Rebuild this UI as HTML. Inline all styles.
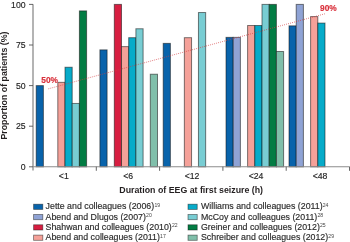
<!DOCTYPE html><html><head><meta charset="utf-8"><style>html,body{margin:0;padding:0;background:#fff;}svg{display:block}text{font-family:"Liberation Sans",Arial,sans-serif}text.r{stroke:#2a2a2a;stroke-width:0.15}text.r tspan{stroke:none}</style></head><body>
<svg width="350" height="242" viewBox="0 0 350 242">
<rect x="36.20" y="85.60" width="7.20" height="81.20" fill="#0863ab" stroke="#141414" stroke-opacity="0.55" stroke-width="1.0"/>
<rect x="57.80" y="82.35" width="7.20" height="84.45" fill="#f5a199" stroke="#141414" stroke-opacity="0.55" stroke-width="1.0"/>
<rect x="65.00" y="67.25" width="7.20" height="99.55" fill="#07abc9" stroke="#141414" stroke-opacity="0.55" stroke-width="1.0"/>
<rect x="72.20" y="103.46" width="7.20" height="63.34" fill="#78cdd3" stroke="#141414" stroke-opacity="0.55" stroke-width="1.0"/>
<rect x="79.40" y="10.90" width="7.20" height="155.90" fill="#027c43" stroke="#141414" stroke-opacity="0.55" stroke-width="1.0"/>
<rect x="99.90" y="49.87" width="7.20" height="116.93" fill="#0863ab" stroke="#141414" stroke-opacity="0.55" stroke-width="1.0"/>
<rect x="114.30" y="4.40" width="7.20" height="162.40" fill="#d71e41" stroke="#141414" stroke-opacity="0.55" stroke-width="1.0"/>
<rect x="121.50" y="46.62" width="7.20" height="120.18" fill="#f5a199" stroke="#141414" stroke-opacity="0.55" stroke-width="1.0"/>
<rect x="128.70" y="37.69" width="7.20" height="129.11" fill="#07abc9" stroke="#141414" stroke-opacity="0.55" stroke-width="1.0"/>
<rect x="135.90" y="28.76" width="7.20" height="138.04" fill="#78cdd3" stroke="#141414" stroke-opacity="0.55" stroke-width="1.0"/>
<rect x="150.30" y="74.23" width="7.20" height="92.57" fill="#80bfaa" stroke="#141414" stroke-opacity="0.55" stroke-width="1.0"/>
<rect x="163.20" y="43.38" width="7.20" height="123.42" fill="#0863ab" stroke="#141414" stroke-opacity="0.55" stroke-width="1.0"/>
<rect x="184.35" y="37.69" width="7.20" height="129.11" fill="#f5a199" stroke="#141414" stroke-opacity="0.55" stroke-width="1.0"/>
<rect x="198.45" y="12.52" width="7.20" height="154.28" fill="#78cdd3" stroke="#141414" stroke-opacity="0.55" stroke-width="1.0"/>
<rect x="226.00" y="37.37" width="7.20" height="129.43" fill="#0863ab" stroke="#141414" stroke-opacity="0.55" stroke-width="1.0"/>
<rect x="233.20" y="37.37" width="7.20" height="129.43" fill="#8fa3d5" stroke="#141414" stroke-opacity="0.55" stroke-width="1.0"/>
<rect x="247.60" y="25.51" width="7.20" height="141.29" fill="#f5a199" stroke="#141414" stroke-opacity="0.55" stroke-width="1.0"/>
<rect x="254.80" y="25.51" width="7.20" height="141.29" fill="#07abc9" stroke="#141414" stroke-opacity="0.55" stroke-width="1.0"/>
<rect x="262.00" y="4.40" width="7.20" height="162.40" fill="#78cdd3" stroke="#141414" stroke-opacity="0.55" stroke-width="1.0"/>
<rect x="269.20" y="4.40" width="7.20" height="162.40" fill="#027c43" stroke="#141414" stroke-opacity="0.55" stroke-width="1.0"/>
<rect x="276.40" y="51.50" width="7.20" height="115.30" fill="#80bfaa" stroke="#141414" stroke-opacity="0.55" stroke-width="1.0"/>
<rect x="289.00" y="25.84" width="7.20" height="140.96" fill="#0863ab" stroke="#141414" stroke-opacity="0.55" stroke-width="1.0"/>
<rect x="296.20" y="4.40" width="7.20" height="162.40" fill="#8fa3d5" stroke="#141414" stroke-opacity="0.55" stroke-width="1.0"/>
<rect x="310.60" y="16.58" width="7.20" height="150.22" fill="#f5a199" stroke="#141414" stroke-opacity="0.55" stroke-width="1.0"/>
<rect x="317.80" y="23.08" width="7.20" height="143.72" fill="#07abc9" stroke="#141414" stroke-opacity="0.55" stroke-width="1.0"/>
<line x1="33.0" y1="4.3" x2="33.0" y2="170.5" stroke="#8c8c8c" stroke-width="1.3"/>
<line x1="33.0" y1="166.7" x2="349.5" y2="166.7" stroke="#8c8c8c" stroke-width="1.1"/>
<line x1="29" y1="166.80" x2="33.0" y2="166.80" stroke="#555" stroke-width="0.9"/>
<text x="25.6" y="169.90" font-size="8.7" text-anchor="end" fill="#222" class="r">0</text>
<line x1="29" y1="126.20" x2="33.0" y2="126.20" stroke="#555" stroke-width="0.9"/>
<text x="25.6" y="129.30" font-size="8.7" text-anchor="end" fill="#222" class="r">25</text>
<line x1="29" y1="85.60" x2="33.0" y2="85.60" stroke="#555" stroke-width="0.9"/>
<text x="25.6" y="88.70" font-size="8.7" text-anchor="end" fill="#222" class="r">50</text>
<line x1="29" y1="45.00" x2="33.0" y2="45.00" stroke="#555" stroke-width="0.9"/>
<text x="25.6" y="48.10" font-size="8.7" text-anchor="end" fill="#222" class="r">75</text>
<line x1="29" y1="4.40" x2="33.0" y2="4.40" stroke="#555" stroke-width="0.9"/>
<text x="25.6" y="7.50" font-size="8.7" text-anchor="end" fill="#222" class="r">100</text>
<line x1="96.30" y1="166.7" x2="96.30" y2="170.8" stroke="#555" stroke-width="0.9"/>
<line x1="159.60" y1="166.7" x2="159.60" y2="170.8" stroke="#555" stroke-width="0.9"/>
<line x1="222.90" y1="166.7" x2="222.90" y2="170.8" stroke="#555" stroke-width="0.9"/>
<line x1="286.20" y1="166.7" x2="286.20" y2="170.8" stroke="#555" stroke-width="0.9"/>
<line x1="349.50" y1="166.7" x2="349.50" y2="170.8" stroke="#555" stroke-width="0.9"/>
<text x="63.80" y="179" font-size="8.7" text-anchor="middle" fill="#222" class="r">&lt;1</text>
<text x="128.20" y="179" font-size="8.7" text-anchor="middle" fill="#222" class="r">&lt;6</text>
<text x="192.10" y="179" font-size="8.7" text-anchor="middle" fill="#222" class="r">&lt;12</text>
<text x="256.10" y="179" font-size="8.7" text-anchor="middle" fill="#222" class="r">&lt;24</text>
<text x="320.00" y="179" font-size="8.7" text-anchor="middle" fill="#222" class="r">&lt;48</text>
<line x1="48.8" y1="88.7" x2="324.5" y2="13.9" stroke="#d43a3e" stroke-opacity="0.8" stroke-width="0.95" stroke-linecap="round" stroke-dasharray="0.05 2.02"/>
<text x="41.3" y="82.5" font-size="8.4" font-weight="bold" fill="#d92f3a" stroke="#d92f3a" stroke-width="0.15">50%</text>
<text x="320.0" y="11.4" font-size="8.4" font-weight="bold" fill="#d92f3a" stroke="#d92f3a" stroke-width="0.15">90%</text>
<text x="119.3" y="193.3" font-size="8.8" font-weight="bold" fill="#231f20">Duration of EEG at first seizure (h)</text>
<text transform="translate(7.4,139.6) rotate(-90)" font-size="8.8" font-weight="bold" fill="#231f20">Proportion of patients (%)</text>
<rect x="33.60" y="204.20" width="9.2" height="5.2" fill="#0863ab" stroke="#141414" stroke-opacity="0.55" stroke-width="0.8"/>
<text x="45.6" y="209.30" font-size="8.8" fill="#2a2a2a" class="r">Jette and colleagues (2006)<tspan font-size="5.1" dx="0.2" dy="-2.6" fill="#444">19</tspan></text>
<rect x="33.60" y="214.50" width="9.2" height="5.2" fill="#8fa3d5" stroke="#141414" stroke-opacity="0.55" stroke-width="0.8"/>
<text x="45.6" y="219.60" font-size="8.8" fill="#2a2a2a" class="r">Abend and Dlugos (2007)<tspan font-size="5.1" dx="0.2" dy="-2.6" fill="#444">20</tspan></text>
<rect x="33.60" y="224.80" width="9.2" height="5.2" fill="#d71e41" stroke="#141414" stroke-opacity="0.55" stroke-width="0.8"/>
<text x="45.6" y="229.90" font-size="8.8" fill="#2a2a2a" class="r">Shahwan and colleagues (2010)<tspan font-size="5.1" dx="0.2" dy="-2.6" fill="#444">22</tspan></text>
<rect x="33.60" y="235.10" width="9.2" height="5.2" fill="#f5a199" stroke="#141414" stroke-opacity="0.55" stroke-width="0.8"/>
<text x="45.6" y="240.20" font-size="8.8" fill="#2a2a2a" class="r">Abend and colleagues (2011)<tspan font-size="5.1" dx="0.2" dy="-2.6" fill="#444">17</tspan></text>
<rect x="188.00" y="204.20" width="9.2" height="5.2" fill="#07abc9" stroke="#141414" stroke-opacity="0.55" stroke-width="0.8"/>
<text x="201.0" y="209.30" font-size="8.8" fill="#2a2a2a" class="r">Williams and colleagues (2011)<tspan font-size="5.1" dx="0.2" dy="-2.6" fill="#444">24</tspan></text>
<rect x="188.00" y="214.50" width="9.2" height="5.2" fill="#78cdd3" stroke="#141414" stroke-opacity="0.55" stroke-width="0.8"/>
<text x="201.0" y="219.60" font-size="8.8" fill="#2a2a2a" class="r">McCoy and colleagues (2011)<tspan font-size="5.1" dx="0.2" dy="-2.6" fill="#444">28</tspan></text>
<rect x="188.00" y="224.80" width="9.2" height="5.2" fill="#027c43" stroke="#141414" stroke-opacity="0.55" stroke-width="0.8"/>
<text x="201.0" y="229.90" font-size="8.8" fill="#2a2a2a" class="r">Greiner and colleagues (2012)<tspan font-size="5.1" dx="0.2" dy="-2.6" fill="#444">25</tspan></text>
<rect x="188.00" y="235.10" width="9.2" height="5.2" fill="#80bfaa" stroke="#141414" stroke-opacity="0.55" stroke-width="0.8"/>
<text x="201.0" y="240.20" font-size="8.8" fill="#2a2a2a" class="r">Schreiber and colleagues (2012)<tspan font-size="5.1" dx="0.2" dy="-2.6" fill="#444">29</tspan></text>
</svg></body></html>
